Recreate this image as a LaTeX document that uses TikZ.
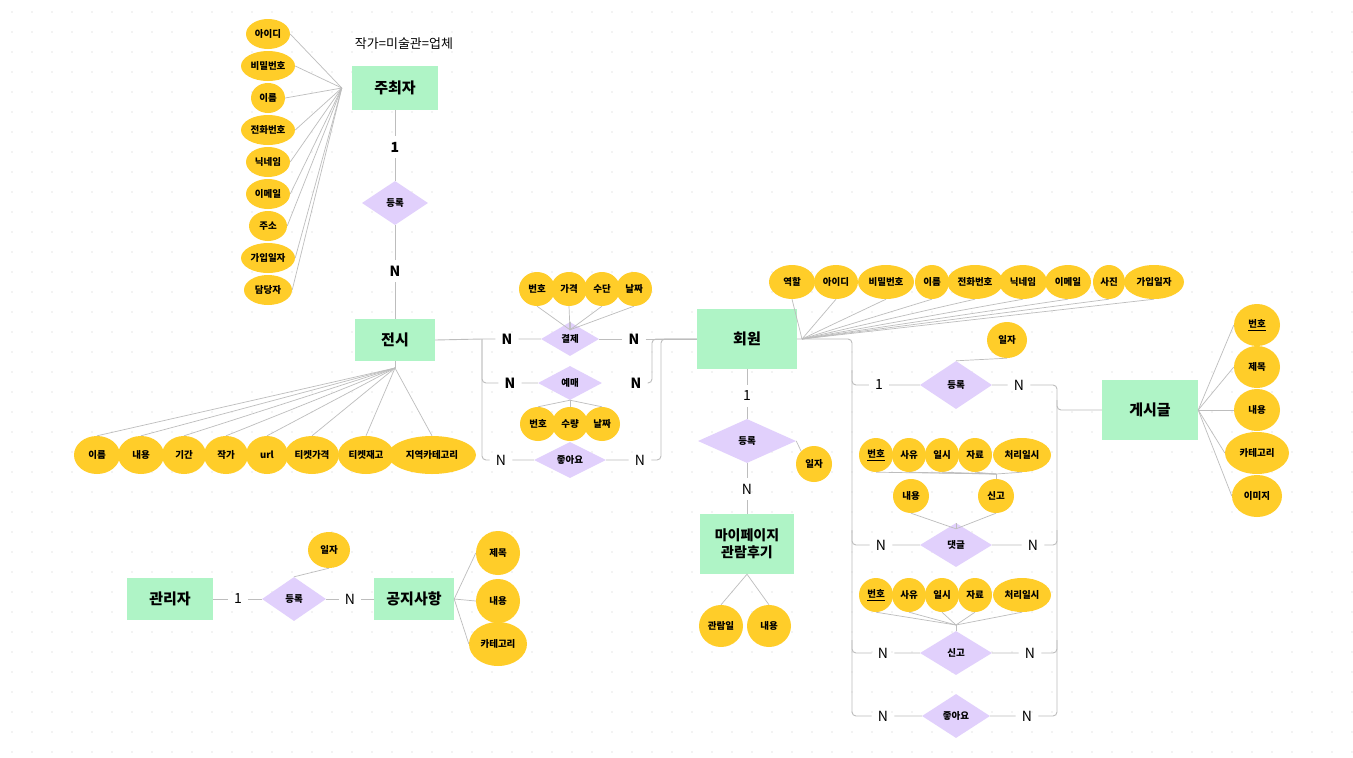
\documentclass[tikz,border=0pt]{standalone}
\usepackage{fontspec}
\setmainfont{Noto Sans CJK KR}
\usetikzlibrary{shapes.geometric}
\definecolor{ent}{HTML}{AFF4C6}
\definecolor{rel}{HTML}{E1D0FC}
\definecolor{att}{HTML}{FFCD29}
\definecolor{ln}{HTML}{BDBDBD}
\begin{document}
\begin{tikzpicture}[x=1pt,y=-1pt,
 ent/.style={rectangle,fill=ent,font=\fontsize{15}{16}\selectfont\bfseries,minimum width=86pt,minimum height=44pt,align=center},
 rel/.style={diamond,fill=rel,font=\fontsize{9.5}{10}\selectfont\bfseries,aspect=1.5,inner sep=1pt,minimum height=44pt,minimum width=66pt},
 att/.style={ellipse,fill=att,font=\fontsize{9.5}{10}\selectfont\bfseries,inner xsep=0pt,inner ysep=2pt,minimum height=30pt,minimum width=40pt},
 card/.style={font=\fontsize{14}{15}\selectfont,inner sep=6pt},
 cb/.style={font=\fontsize{14}{15}\selectfont\bfseries,inner sep=6pt},
 l/.style={draw=ln,line width=0.7pt},
 c/.style={draw=ln,line width=0.9pt,rounded corners=4pt}]
\useasboundingbox (0,0) rectangle (1353,758);
\fill[white] (0,0) rectangle (1353,758);
\foreach \i in {0,...,67}{\foreach \j in {0,...,37}{\fill[gray!40] (12+\i*20,12+\j*20) circle (0.7pt);}}
% entities
\node[ent] (jj) at (395,88) {주최자};
\node[ent,minimum width=80pt,minimum height=42pt] (js) at (395,340) {전시};
\node[ent,minimum width=100pt,minimum height=60pt] (hw) at (747,339) {회원};
\node[ent,minimum width=96pt,minimum height=60pt] (gs) at (1150,410) {게시글};
\node[ent,minimum width=94pt,minimum height=60pt,font=\fontsize{14}{17}\selectfont\bfseries] (mp) at (747,544) {마이페이지\\관람후기};
\node[ent,minimum height=42pt] (ad) at (170,599) {관리자};
\node[ent,minimum width=80pt,minimum height=42pt] (gj) at (414,599) {공지사항};
\node[font=\fontsize{13}{14}\selectfont] at (404,44) {작가=미술관=업체};
% relations
\node[rel] (r1) at (395,203) {등록};
\node[rel,minimum height=34pt,minimum width=58pt] (pay) at (570,339) {결제};
\node[rel,minimum height=34pt,minimum width=64pt] (res) at (570,383) {예매};
\node[rel,minimum height=36pt,minimum width=72pt] (lk) at (570,460) {좋아요};
\node[rel,minimum width=98pt,minimum height=44pt] (r2) at (747,441) {등록};
\node[rel,minimum width=72pt,minimum height=48pt] (r3) at (956,385) {등록};
\node[rel,minimum width=72pt,minimum height=44pt] (cm) at (956,545) {댓글};
\node[rel,minimum width=72pt,minimum height=44pt] (rp) at (956,653) {신고};
\node[rel,minimum width=68pt,minimum height=44pt] (lk2) at (956,716) {좋아요};
\node[rel,minimum width=64pt,minimum height=44pt] (r4) at (294,599) {등록};
% 주최자 attrs
\foreach \n/\t/\y/\w in {a1/아이디/34/44,a2/비밀번호/66/54,a3/이름/98/34,a4/전화번호/130/54,a5/닉네임/162/44,a6/이메일/194/44,a7/주소/226/38,a8/가입일자/258/54,a9/담당자/290/48}{
 \node[att,minimum width=\w pt] (\n) at (268,\y) {\t};
 \draw[l] (\n.east) -- ([xshift=-10pt]jj.west);}
% 전시 attrs
\coordinate (jsb) at (395,368);
\foreach \n/\t/\x/\w in {b1/이름/97/46,b2/내용/141/46,b3/기간/184/44,b4/작가/226/44,b5/url/267/42,b6/티켓가격/312/54,b7/티켓재고/366/56,b8/지역카테고리/432/88}{
 \node[att,minimum width=\w pt,minimum height=38pt] (\n) at (\x,455) {\t};
 \draw[l] (\n.north) -- (jsb);}
\draw[l] (js.south) -- (jsb);
% 결제 attrs
\foreach \n/\t/\x in {p1/번호/537,p2/가격/569,p3/수단/602,p4/날짜/634}{
 \node[att,minimum width=36pt,minimum height=34pt] (\n) at (\x,289) {\t};
 \draw[l] (\n.south) -- ([yshift=-8pt]pay.north) -- (pay.north);}
% 예매 attrs
\foreach \n/\t/\x in {q1/번호/538,q2/수량/570,q3/날짜/602}{
 \node[att,minimum width=36pt,minimum height=34pt] (\n) at (\x,424) {\t};
 \draw[l] (\n.north) -- (res.south);}
% 회원 attrs
\coordinate (hwc) at (802,339);
\foreach \n/\t/\x/\w in {m1/역할/792/46,m2/아이디/836/44,m3/비밀번호/886/56,m4/이름/932/34,m5/전화번호/975/56,m6/닉네임/1023/48,m7/이메일/1068/46,m8/사진/1109/32,m9/가입일자/1154/60}{
 \node[att,minimum width=\w pt,minimum height=34pt] (\n) at (\x,282) {\t};
 \draw[l] (\n.south) -- (hwc);}
% 게시글 attrs
\foreach \n/\t/\y/\w in {g1/\underline{번호}/325/46,g2/제목/367/46,g3/내용/410/46,g4/카테고리/453/64,g5/이미지/496/50}{
 \node[att,minimum width=\w pt,minimum height=42pt] (\n) at (1257,\y) {\t};
 \draw[l] (\n.west) -- (gs.east);}
% 일자
\node[att,minimum width=40pt,minimum height=36pt] (d1) at (1007,340) {일자};
\draw[l] (d1.south) -- (r3.north);
\node[att,minimum width=36pt,minimum height=36pt] (d2) at (814,464) {일자};
\draw[l] (d2.north west) -- (r2.east);
\node[att,minimum width=42pt,minimum height=36pt] (d3) at (329,550) {일자};
\draw[l] (d3.south) -- (r4.north);
% 댓글 attrs
\coordinate (cc) at (996,474);
\foreach \n/\t/\x/\w in {c1/\underline{번호}/876/34,c2/사유/909/34,c3/일시/942/34,c4/자료/975/34,c5/처리일시/1022/58}{
 \node[att,minimum width=\w pt,minimum height=34pt] (\n) at (\x,455) {\t};
 \draw[l] (\n.south) -- (cc);}
\node[att,minimum width=36pt,minimum height=34pt] (c6) at (911,496) {내용};
\node[att,minimum width=36pt,minimum height=34pt] (c7) at (996,496) {신고};
\draw[l] (cc) -- (c7.north);
\draw[l] (c6.south) -- ([yshift=-6pt]cm.north) -- (c7.south);
\draw[l] ([yshift=-6pt]cm.north) -- (cm.north);
% 신고 attrs
\coordinate (rc) at (956,625);
\foreach \n/\t/\x/\w in {s1/\underline{번호}/876/34,s2/사유/909/34,s3/일시/942/34,s4/자료/975/34,s5/처리일시/1022/58}{
 \node[att,minimum width=\w pt,minimum height=34pt] (\n) at (\x,595) {\t};
 \draw[l] (\n.south) -- (rc);}
\draw[l] (rc) -- (rp.north);
% 공지사항 attrs
\foreach \n/\t/\y/\w in {n1/제목/553/44,n2/내용/601/44,n3/카테고리/644/58}{
 \node[att,minimum width=\w pt,minimum height=44pt] (\n) at (498,\y) {\t};
 \draw[l] (\n.west) -- (gj.east);}
% 마이페이지 attrs
\node[att,minimum width=44pt,minimum height=42pt] (v1) at (721,626) {관람일};
\node[att,minimum width=44pt,minimum height=42pt] (v2) at (769,626) {내용};
\draw[l] (v1.north) -- (mp.south) -- (v2.north);
% cardinality connectors
\node[cb] (k1) at (395,147) {1};
\node[cb] (k2) at (395,271) {N};
\draw[c] (jj.south) -- (k1) -- (r1) -- (k2) -- (js.north);
% 전시 -> 결제/예매/좋아요
\node[cb] (e1) at (507,339) {N};
\node[cb] (e2) at (510,383) {N};
\node[card] (e3) at (501,460) {N};
\coordinate (ej) at (482,339);
\draw[c] (js.east) -- (ej) -- (e1) (e1) -- (pay);
\draw[c] (ej) -- (482,383) -- (e2) (e2) -- (res);
\draw[c] (ej) -- (482,460) -- (e3) (e3) -- (lk);
\node[cb] (f1) at (634,339) {N};
\node[cb] (f2) at (636,383) {N};
\node[card] (f3) at (640,460) {N};
\draw[c] (pay) -- (f1) (f1) -- (hw.west);
\draw[c] (f2) -- (652,383) -- (652,339) -- (hw.west);
\draw[c] (lk) -- (f3) (f3) -- (661,460) -- (661,339) -- (hw.west);
% 회원 -> 마이페이지
\node[card] (h1) at (747,396) {1};
\node[card] (h2) at (747,489) {N};
\draw[c] (hw.south) -- (h1) -- (r2) -- (h2) -- (mp.north);
% 회원 -> 게시글 relations
\coordinate (hj) at (852,339);
\node[card] (t1) at (879,385) {1};
\node[card] (t2) at (881,545) {N};
\node[card] (t3) at (883,653) {N};
\node[card] (t4) at (883,716) {N};
\draw[c] (hw.east) -- (hj) -- (852,716) -- (t4) (t4) -- (lk2);
\draw[c] (852,370) -- (852,385) -- (t1) (t1) -- (r3);
\draw[c] (852,530) -- (852,545) -- (t2) (t2) -- (cm);
\draw[c] (852,640) -- (852,653) -- (t3) (t3) -- (rp);
\node[card] (u1) at (1019,385) {N};
\node[card] (u2) at (1033,545) {N};
\node[card] (u3) at (1030,653) {N};
\node[card] (u4) at (1027,716) {N};
\coordinate (gj1) at (1057,410);
\draw[c] (r3) -- (u1) (u1) -- (1057,385) -- (1057,716) -- (u4) (u4) -- (lk2);
\draw[c] (cm) -- (u2) (u2) -- (1057,545) -- (1057,530);
\draw[c] (rp) -- (u3) (u3) -- (1057,653) -- (1057,640);
\draw[c] (1057,400) -- (gj1) -- (gs.west);
% 관리자
\node[card] (w1) at (238,599) {1};
\node[card] (w2) at (350,599) {N};
\draw[c] (ad.east) -- (w1) -- (r4) -- (w2) -- (gj.west);
\end{tikzpicture}
\end{document}
